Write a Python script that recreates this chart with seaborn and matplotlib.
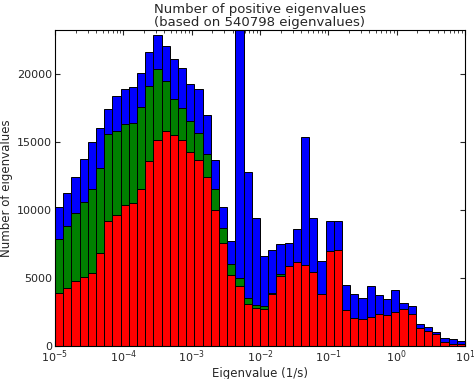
import numpy as np
import pandas as pd
import matplotlib
matplotlib.use("Agg")
import matplotlib.pyplot as plt
import seaborn as sns

# counts per log bin (50 bins from 1e-5 to 1e1)
red = [3912, 4230, 4768, 5061, 5330, 6822, 9169, 9633, 10367, 10514,
       11516, 13570, 15086, 15819, 15477, 15086, 14205, 13619, 12372, 10000,
       7580, 5208, 4401, 3105, 2763, 2690, 3839, 5135, 5868, 6161,
       5917, 5428, 3790, 6968, 7017, 2616, 2078, 1956, 2127, 2372,
       2300, 2518, 2690, 2372, 1345, 1100, 856, 318, 171, 122]
green = [3912, 4548, 4963, 5501, 6210, 6259, 6406, 6137, 5941, 5892,
         6064, 5525, 5256, 3619, 2689, 2396, 2299, 2005, 1736, 1492,
         1100, 782, 562, 391, 244, 244, 73, 122, 0, 0,
         0, 0, 0, 0, 0, 0, 0, 0, 0, 0,
         0, 0, 0, 0, 0, 0, 0, 0, 0, 0]
blue = [2372, 2469, 2641, 3154, 3423, 2909, 1833, 2568, 2543, 2641,
        2469, 2494, 2470, 2567, 2910, 2934, 2763, 3227, 2836, 2127,
        1540, 1712, 25000, 9291, 6357, 3643, 3105, 2249, 1712, 2445,
        9413, 3985, 2445, 2201, 2152, 1834, 1712, 1589, 2274, 1344,
        1123, 1565, 489, 538, 293, 294, 195, 293, 367, 245]
n_total = 540798

edges = np.logspace(-5, 1, 51)
centers = np.sqrt(edges[:-1] * edges[1:])

df = pd.concat([
    pd.DataFrame({"eig": centers, "count": red, "kind": "red"}),
    pd.DataFrame({"eig": centers, "count": green, "kind": "green"}),
    pd.DataFrame({"eig": centers, "count": blue, "kind": "blue"}),
])

sns.set_style("ticks")
plt.rcParams["font.family"] = ["DejaVu Sans"]
plt.rcParams["xtick.direction"] = "in"
plt.rcParams["ytick.direction"] = "in"
plt.rcParams["xtick.top"] = True
plt.rcParams["ytick.right"] = True

fig, ax = plt.subplots(figsize=(4.74, 3.79), dpi=100)

sns.histplot(data=df, x="eig", weights="count", hue="kind",
             hue_order=["blue", "green", "red"],
             palette={"blue": "#0000ff", "green": "#008000", "red": "#ff0000"},
             multiple="stack", bins=50, binrange=(-5, 1), log_scale=True,
             edgecolor="black", linewidth=0.7, alpha=1, legend=False, ax=ax)

ax.set_xlim(1e-5, 1e1)
ax.set_ylim(0, 23200)
ax.set_yticks([0, 5000, 10000, 15000, 20000])
ax.set_xlabel("Eigenvalue (1/s)", fontsize=8.5, labelpad=1)
ax.set_ylabel("Number of eigenvalues", fontsize=8.5, labelpad=3)
ax.set_title("Number of positive eigenvalues\n(based on %d eigenvalues)" % n_total,
             fontsize=9.5, linespacing=1.0, pad=3)
ax.tick_params(labelsize=8, pad=2)
for s in ax.spines.values():
    s.set_visible(True)
    s.set_color("black")

# place axes like the reference, after styling
fig.subplots_adjust(left=0.116, right=0.981, top=0.921, bottom=0.087)
fig.savefig("out.png", dpi=100)
